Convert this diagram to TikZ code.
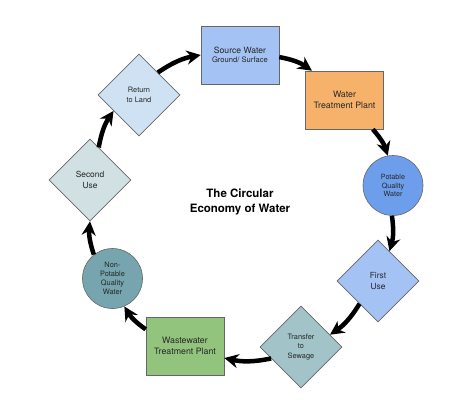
\documentclass[tikz,border=0pt]{standalone}
\usepackage{fontspec}
\setmainfont{TeX Gyre Heros}
\usetikzlibrary{shapes.geometric,arrows.meta}
\definecolor{srcblue}{HTML}{A4C2F4}
\definecolor{plantorange}{HTML}{F6B26B}
\definecolor{potblue}{HTML}{6D9EEB}
\definecolor{useblue}{HTML}{A4C2F4}
\definecolor{sewteal}{HTML}{A2C4C9}
\definecolor{wwtgreen}{HTML}{93C47D}
\definecolor{npwteal}{HTML}{76A5AF}
\definecolor{secgray}{HTML}{D0E0E3}
\definecolor{landblue}{HTML}{CFE2F3}
\begin{document}
\begin{tikzpicture}[x=1pt,y=-1pt,
    box/.style={draw=black!60,line width=0.6pt,minimum width=78pt,minimum height=58pt,align=center,text=black!85},
    dia/.style={diamond,draw=black!60,line width=0.6pt,minimum width=82pt,minimum height=82pt,inner sep=0pt,align=center,text=black!85},
    blob/.style={circle,draw=black!60,line width=0.6pt,minimum size=60pt,inner sep=0pt,align=center,text=black!85,font=\fontsize{7.2}{8.8}\selectfont},
    flow/.style={line width=4.5pt,-{Stealth[length=14pt,width=14pt,inset=4.5pt]},bend left=12}]
    \useasboundingbox (0,0) rectangle (469,408);
    \node[box,fill=srcblue,font=\fontsize{8.6}{9.5}\selectfont] (src) at (240,55) {Source Water\\{\fontsize{7.6}{9}\selectfont Ground/ Surface}};
    \node[box,fill=plantorange,font=\fontsize{8.8}{10.4}\selectfont] (wtp) at (344.5,100) {Water\\Treatment Plant};
    \node[blob,fill=potblue] (pot) at (393,185.5) {Potable\\Quality\\Water};
    \node[dia,fill=useblue,font=\fontsize{8.4}{10.4}\selectfont] (use1) at (378,281) {First\\Use};
    \node[dia,fill=sewteal,font=\fontsize{7.4}{9.3}\selectfont] (sew) at (301,347) {Transfer\\to\\Sewage};
    \node[box,fill=wwtgreen,font=\fontsize{8.8}{10.4}\selectfont] (wwt) at (185,346) {Wastewater\\Treatment Plant};
    \node[blob,fill=npwteal,font=\fontsize{7.4}{9}\selectfont] (npw) at (112.5,278.5) {Non-\\Potable\\Quality\\Water};
    \node[dia,fill=secgray,font=\fontsize{8.4}{10.6}\selectfont] (use2) at (90,180) {Second\\Use};
    \node[dia,fill=landblue,font=\fontsize{7.4}{9.3}\selectfont] (ret) at (139,95) {Return\\to Land};
    \node[font=\bfseries\fontsize{11.5}{15}\selectfont,align=center] (title) at (240,201.5) {The Circular\\Economy of Water};
    \draw[flow] (ret.50) to (src.west);
    \draw[flow] (src.-3) to (wtp.138);
    \draw[flow] (wtp.-46) to (pot.100);
    \draw[flow] (pot.-92) to (use1.69);
    \draw[flow] (use1.231) to (sew.23);
    \draw[flow] (sew.201) to (wwt.-17);
    \draw[flow] (wwt.157) to (npw.-67);
    \draw[flow] (npw.128) to (use2.south);
    \draw[flow] (use2.75) to (ret.212);
\end{tikzpicture}
\end{document}
